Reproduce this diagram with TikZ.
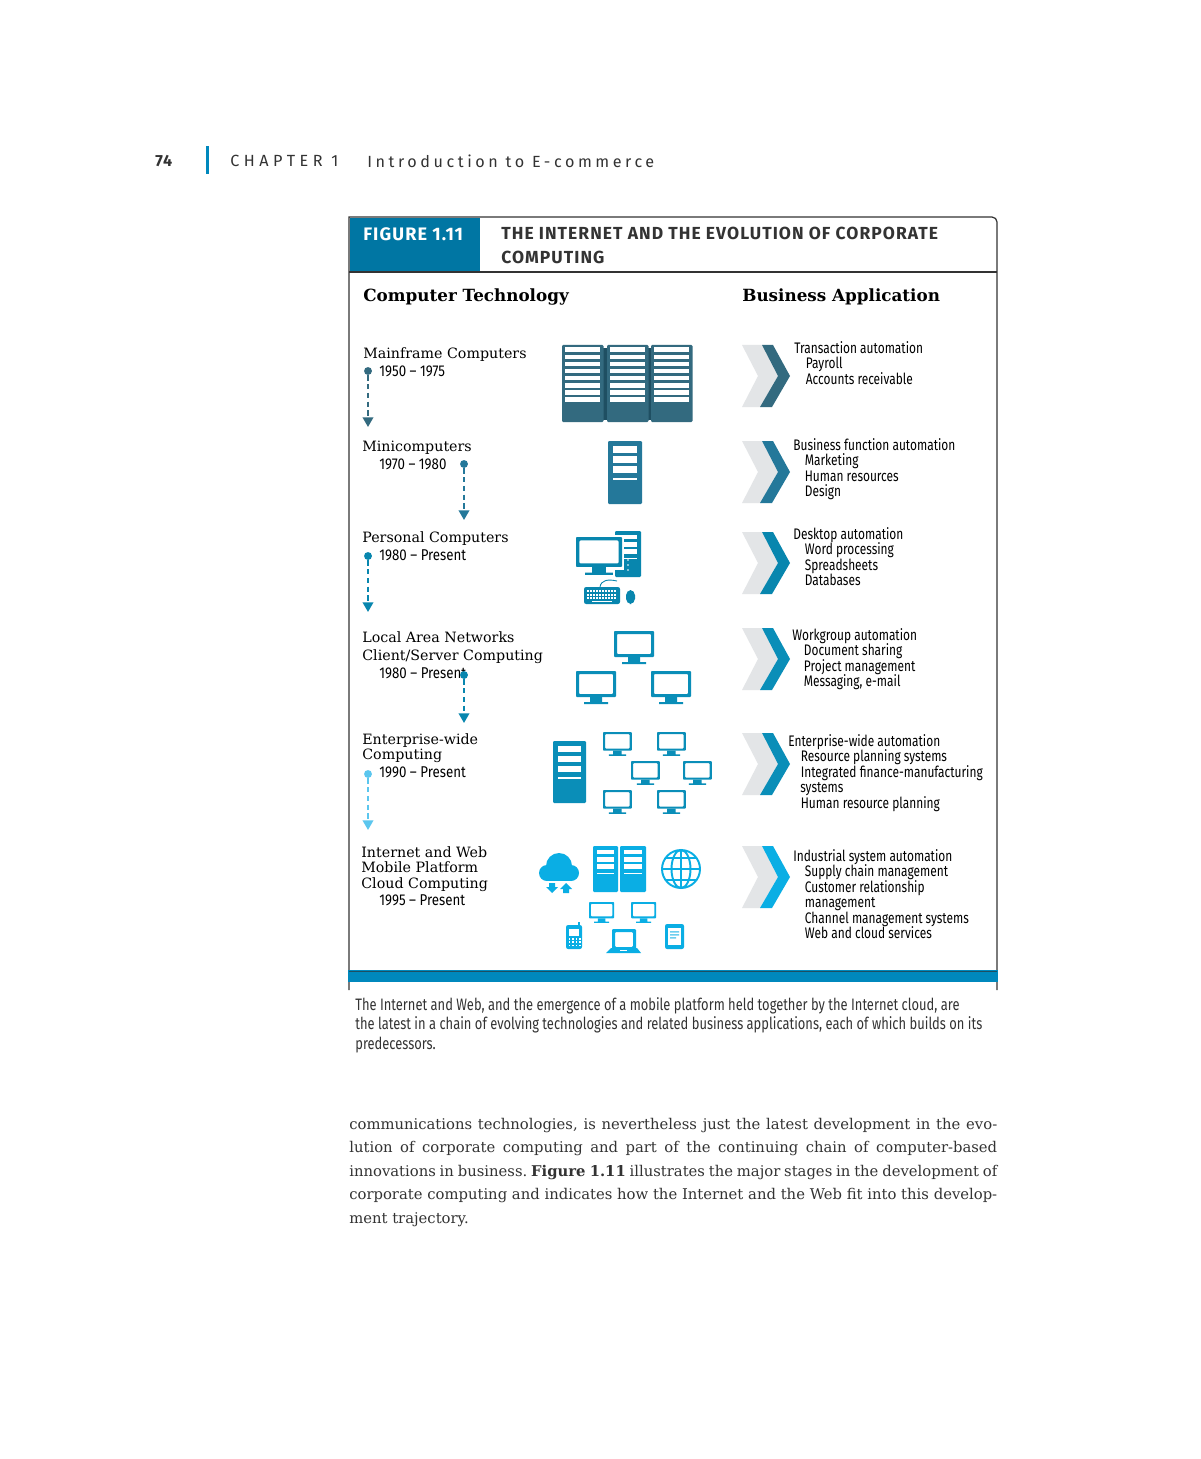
\documentclass[tikz,border=0pt]{standalone}
\usepackage{fontspec}
\setmainfont{Liberation Serif}
\newfontfamily\headfont[LetterSpace=6]{Fira Sans}
\newfontfamily\chapfont[LetterSpace=28]{Fira Sans}
\newfontfamily\chaptitlefont[LetterSpace=22]{Fira Sans}
\newfontfamily\slabfont{DejaVu Serif}
\newfontfamily\condfont[FakeStretch=0.78]{Fira Sans}
\newfontfamily\datefont[FakeStretch=0.85]{Fira Sans}
\newfontfamily\bodyfont{DejaVu Serif}
\usepackage{xcolor}
\definecolor{frameGrey}{HTML}{333333}
\definecolor{headBlue}{HTML}{0076A3}
\definecolor{barBlue}{HTML}{0088BD}
\definecolor{chevGrey}{HTML}{E3E5E7}
\definecolor{stageOne}{HTML}{336A7F}
\definecolor{stageOneDark}{HTML}{1F4F62}
\definecolor{stageTwo}{HTML}{24789A}
\definecolor{stageThree}{HTML}{0886AE}
\definecolor{stageFour}{HTML}{0A8EB8}
\definecolor{stageFive}{HTML}{5BC6EE}
\definecolor{stageSix}{HTML}{0AAEE4}
\usetikzlibrary{arrows.meta}
\tikzset{
  slabhead/.style={anchor=west,inner sep=0pt,font=\slabfont\bfseries\fontsize{9.55}{12}\selectfont},
  slabname/.style={anchor=north west,inner sep=0pt,align=left,font=\slabfont\fontsize{8.1}{8.9}\selectfont},
  datelabel/.style={anchor=west,inner sep=0pt,font=\datefont\fontsize{8.9}{10}\selectfont},
  appblock/.style={anchor=north west,inner sep=0pt,align=left,font=\condfont\fontsize{8.7}{8.82}\selectfont},
  stagedot/.style={circle,inner sep=0pt,minimum size=4.5pt},
  stageline/.style={densely dashed,line width=1.1pt,-{Triangle[length=5.5pt,width=6pt]}}
}
\newcommand{\sub}{\hspace*{0.23cm}}
% one grey and one coloured chevron, #1 is the top edge
\newcommand{\chevpair}[2]{
  \fill[chevGrey] (742,#1) -- (762,#1) -- (778,#1+31) -- (760,#1+62) -- (742,#1+62) -- (758,#1+31) -- cycle;
  \fill[#2] (762,#1) -- (773,#1) -- (790,#1+31) -- (772,#1+62) -- (760,#1+62) -- (778,#1+31) -- cycle;
}
% x, y, scale, colour
\newcommand{\screenicon}[4]{
  \begin{scope}[shift={(#1,#2)},scale=#3]
    \fill[#4,even odd rule,rounded corners=0.5pt] (0,0) rectangle (40,26) (3,3) rectangle (37,23);
    \fill[#4] (14,26) rectangle (26,31) (8,31) rectangle (32,33);
  \end{scope}
}
% x, y, w, h, colour
\newcommand{\towericon}[5]{
  \pgfmathsetmacro{\tx}{#3/34}
  \pgfmathsetmacro{\ty}{#4/63}
  \begin{scope}[shift={(#1,#2)},xscale=\tx,yscale=\ty]
    \fill[#5,rounded corners=0.6pt] (0,0) rectangle (34,63);
    \foreach \ya in {5,15,25}{\fill[white] (5,\ya) rectangle (29,\ya+6.5);}
    \fill[white] (5,37) rectangle (29,38.5);
  \end{scope}
}
\begin{document}
\frenchspacing
\begin{tikzpicture}[x=0.02cm,y=-0.02cm]
  \useasboundingbox (0,0) rectangle (1200,1459);
  \fill[white] (0,0) rectangle (1200,1459);

  % running head
  \node[anchor=west,inner sep=0pt,font=\headfont\bfseries\fontsize{9.2}{11}\selectfont,text=frameGrey] (pagenum) at (155,161) {74};
  \fill[barBlue] (206,146) rectangle (209,174);
  \node[anchor=west,inner sep=0pt,font=\chapfont\fontsize{9.2}{11}\selectfont,text=frameGrey] (chapter) at (230,161) {CHAPTER 1};
  \node[anchor=west,inner sep=0pt,font=\chaptitlefont\fontsize{9.2}{11}\selectfont,text=frameGrey] (chaptitle) at (367,161) {Introduction to E-commerce};

  % frame and header
  \fill[headBlue] (350,218) rectangle (480,272);
  \draw[frameGrey,line width=0.7pt] (349,990) -- (349,217) -- (992,217) to[out=0,in=90] (997,222) -- (997,990);
  \draw[frameGrey,line width=0.7pt] (349,272) -- (997,272);
  \fill[barBlue] (348,970) rectangle (998,982);
  \draw[stageOneDark,line width=0.5pt] (349,971) -- (997,971);
  \node[anchor=west,inner sep=0pt,text=white,font=\headfont\bfseries\fontsize{10.3}{12}\selectfont] (fignum) at (363,234) {FIGURE 1.11};
  \node[anchor=north west,inner sep=0pt,align=left,text=frameGrey,font=\headfont\bfseries\fontsize{9.95}{13.3}\selectfont] (figtitle) at (501,227) {THE INTERNET AND THE EVOLUTION OF CORPORATE\\COMPUTING};

  \node[slabhead] (techhead) at (363,297) {Computer Technology};
  \node[slabhead] (apphead) at (742,297) {Business Application};

  % left column
  \node[slabname] (mainframe) at (363,347) {Mainframe Computers};
  \node[datelabel] (maindate) at (379,371) {1950 – 1975};
  \node[slabname] (mini) at (362,441) {Minicomputers};
  \node[datelabel] (minidate) at (379,464) {1970 – 1980};
  \node[slabname] (personal) at (362,531) {Personal Computers};
  \node[datelabel] (persdate) at (379,555) {1980 – Present};
  \node[slabname] (lan) at (362,631) {Local Area Networks\\[1.5pt]Client/Server Computing};
  \node[datelabel] (landate) at (379,673) {1980 – Present};
  \node[slabname] (enterprise) at (362,733) {Enterprise-wide\\Computing};
  \node[datelabel] (entdate) at (379,772) {1990 – Present};
  \node[slabname] (internet) at (361,846) {Internet and Web\\Mobile Platform\\Cloud Computing};
  \node[datelabel] (intdate) at (379,900) {1995 – Present};

  % timeline arrows
  \node[stagedot,fill=stageOne] (dotone) at (368,371) {};
  \coordinate (endone) at (368,427);
  \node[stagedot,fill=stageTwo] (dottwo) at (464,464) {};
  \coordinate (endtwo) at (464,520);
  \node[stagedot,fill=stageThree] (dotthree) at (368,556) {};
  \coordinate (endthree) at (368,612);
  \node[stagedot,fill=stageThree] (dotfour) at (464,675) {};
  \coordinate (endfour) at (464,723);
  \node[stagedot,fill=stageFive] (dotfive) at (368,774) {};
  \coordinate (endfive) at (368,830);
  \draw[stageline,stageOne] (dotone) -- (endone);
  \draw[stageline,stageTwo] (dottwo) -- (endtwo);
  \draw[stageline,stageThree] (dotthree) -- (endthree);
  \draw[stageline,stageThree] (dotfour) -- (endfour);
  \draw[stageline,stageFive] (dotfive) -- (endfive);

  % mainframe
  \fill[stageOneDark] (600,348) rectangle (655,420);
  \foreach \xa in {562,607,651}{
    \fill[stageOne,rounded corners=0.6pt] (\xa,345) rectangle (\xa+41.5,422);
    \foreach \ya in {347.5,354.6,361.7,368.8,375.9,383,390,397}{\fill[white] (\xa+3,\ya) rectangle (\xa+38,\ya+4.6);}
  }
  % minicomputer
  \towericon{608}{441}{34}{63}{stageTwo}

  % personal computer
  \towericon{615}{531}{26}{46}{stageThree}
  \foreach \ya in {560,565,570}{\fill[white] (628,\ya) circle (0.9);}
  \fill[white] (574,535) rectangle (624,570);
  \screenicon{576}{537}{1.15}{stageThree}
  \draw[stageThree,line width=0.5pt] (600,587) .. controls (601,580) and (608,579) .. (617,581);
  \fill[stageThree,rounded corners=1.2pt] (584,587) rectangle (620,604);
  \foreach \ya in {590,593.5,597}{\foreach \xa in {587,590,...,615}{\fill[white] (\xa,\ya) rectangle (\xa+2,\ya+2);}}
  \fill[white] (592,600.5) rectangle (612,602.2);
  \fill[stageThree,rounded corners=3pt] (626,590) rectangle (635,604);

  % local area network
  \screenicon{614}{631}{1}{stageFour}
  \screenicon{576}{671}{1}{stageFour}
  \screenicon{651}{671}{1}{stageFour}

  % enterprise
  \towericon{553}{741}{33}{62}{stageFour}
  \foreach \xa/\ya in {603/732,657/732,631/761,683/761,603/790,657/790}{\screenicon{\xa}{\ya}{0.72}{stageFour}}

  % internet and web
  \fill[stageSix] (559,866) circle (13);
  \fill[stageSix] (547,873) circle (8);
  \fill[stageSix] (571,873) circle (8);
  \fill[stageSix] (547,870) rectangle (571,881);
  \fill[stageSix] (549,883) -- (555,883) -- (555,887) -- (558,887) -- (552,893) -- (546,887) -- (549,887) -- cycle;
  \fill[stageSix] (563,893) -- (569,893) -- (569,889) -- (572,889) -- (566,883) -- (560,889) -- (563,889) -- cycle;
  \towericon{593}{846}{25}{46}{stageSix}
  \towericon{620}{846}{26}{46}{stageSix}
  \draw[stageSix,line width=1.1pt] (681,869) circle (19) (681,869) ellipse (9.5 and 19) (681,850) -- (681,888) (662,869) -- (700,869) (665,858) -- (697,858) (665,880) -- (697,880);
  \screenicon{589}{902}{0.63}{stageSix}
  \screenicon{631}{902}{0.63}{stageSix}
  % phone
  \fill[stageSix,rounded corners=1.2pt] (566,925) rectangle (582,949);
  \fill[stageSix] (578,921.5) rectangle (580,926);
  \fill[white] (569,929) rectangle (579,936);
  \foreach \ya in {938,941,944.5}{\foreach \xa in {568.5,572,575.5,579}{\fill[white] (\xa,\ya) rectangle (\xa+1.6,\ya+1.6);}}
  % laptop
  \fill[stageSix,even odd rule,rounded corners=0.6pt] (612,929) rectangle (636,949) (615,932) rectangle (633,947);
  \fill[stageSix] (611,948) -- (637,948) -- (641,953) -- (606,953) -- cycle;
  \fill[white] (620,949.5) rectangle (627,951);
  % tablet
  \fill[stageSix,rounded corners=1.2pt] (665,924) rectangle (684,949);
  \fill[white] (668,928) rectangle (681,945);
  \fill[stageSix!60] (670,931) rectangle (679,932.5) (670,934) rectangle (679,935.5) (670,937) rectangle (676,938.5);

  % business applications
  \chevpair{345}{stageOne}
  \chevpair{441}{stageTwo}
  \chevpair{532}{stageThree}
  \chevpair{628}{stageFour}
  \chevpair{733}{stageFour}
  \chevpair{846}{stageSix}
  \node[appblock] (apptrans) at (794,341) {Transaction automation\\\sub Payroll\\\sub Accounts receivable};
  \node[appblock] (appfunc) at (793,438) {Business function automation\\\sub Marketing\\\sub Human resources\\\sub Design};
  \node[appblock] (appdesk) at (793,527) {Desktop automation\\\sub Word processing\\\sub Spreadsheets\\\sub Databases};
  \node[appblock] (appgroup) at (792,628) {Workgroup automation\\\sub Document sharing\\\sub Project management\\\sub Messaging, e-mail};
  \node[appblock] (appent) at (788,734) {Enterprise-wide automation\\\hspace*{0.25cm}Resource planning systems\\\hspace*{0.25cm}Integrated finance-manufacturing\\\hspace*{0.24cm}systems\\\hspace*{0.25cm}Human resource planning};
  \node[appblock] (appind) at (793,849) {Industrial system automation\\\sub Supply chain management\\\sub Customer relationship\\\sub management\\\sub Channel management systems\\\sub Web and cloud services};

  % caption and running text
  \node[anchor=north west,inner sep=0pt,align=left,text=frameGrey,font=\condfont\fontsize{9.43}{11.15}\selectfont] (caption) at (355,997) {The Internet and Web, and the emergence of a mobile platform held together by the Internet cloud, are\\the latest in a chain of evolving technologies and related business applications, each of which builds on its\\predecessors.};
  \node[anchor=north west,inner sep=0pt,align=left,text=frameGrey,font=\bodyfont\fontsize{8.42}{13.3}\selectfont] (bodytext) at (349,1118) {%
    \makebox[12.96cm][s]{communications technologies, is nevertheless just the latest development in the evo-}\\
    \makebox[12.96cm][s]{lution of corporate computing and part of the continuing chain of computer-based}\\
    \makebox[12.96cm][s]{innovations in business. \textbf{Figure 1.11} illustrates the major stages in the development of}\\
    \makebox[12.96cm][s]{corporate computing and indicates how the Internet and the Web fit into this develop-}\\
    ment trajectory.};
\end{tikzpicture}
\end{document}
